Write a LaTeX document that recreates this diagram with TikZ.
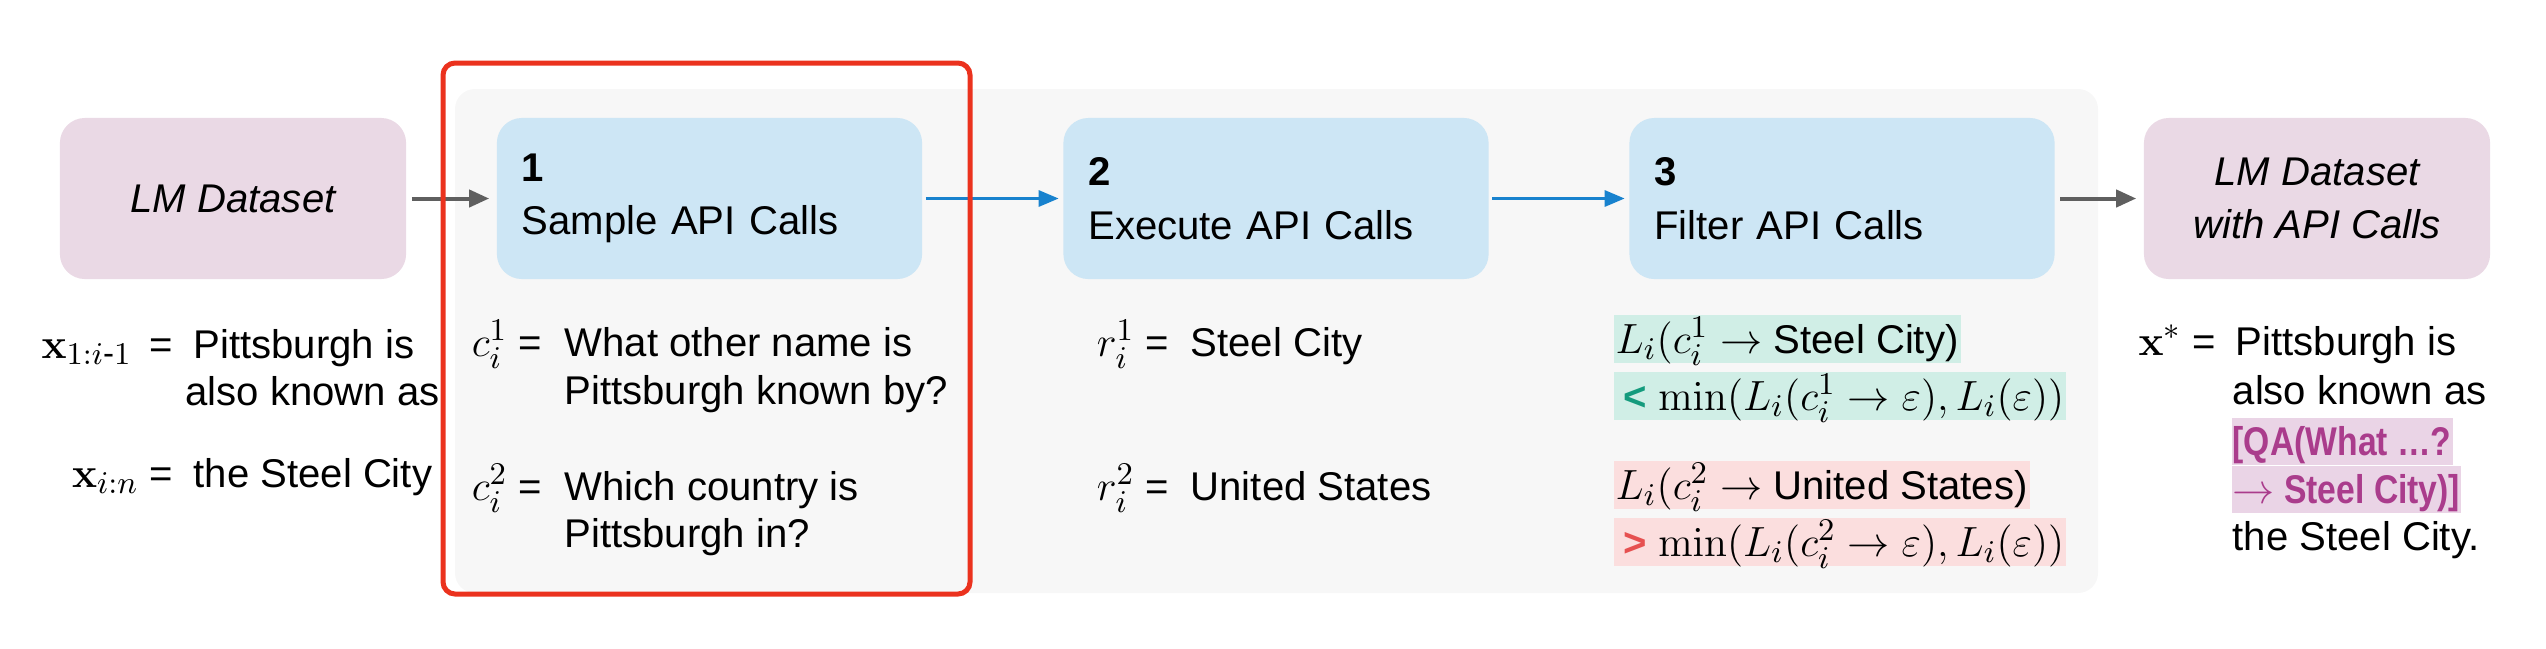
\documentclass[tikz,border=0pt]{standalone}
\usepackage{amsmath}
\usepackage[no-math]{fontspec}
\setmainfont{Liberation Sans}
\newfontfamily\apifont[FakeStretch=0.84]{Liberation Sans}
\usepackage{tikz}
\usepackage{xcolor}
\usetikzlibrary{arrows.meta}
\usetikzlibrary{positioning}
\DeclareMathSizes{11.4}{12.9}{9.4}{7}
\definecolor{datapink}{RGB}{234,217,229}
\definecolor{stepblue}{RGB}{205,230,245}
\definecolor{panelgray}{RGB}{247,247,247}
\definecolor{callred}{RGB}{235,50,30}
\definecolor{arrowblue}{RGB}{24,130,206}
\definecolor{arrowgray}{RGB}{95,95,95}
\definecolor{keepfill}{RGB}{208,238,230}
\definecolor{keepmark}{RGB}{20,155,125}
\definecolor{dropfill}{RGB}{251,222,222}
\definecolor{dropmark}{RGB}{230,80,80}
\definecolor{apifill}{RGB}{234,212,230}
\definecolor{apitext}{RGB}{170,60,140}
\newcommand{\rowfont}{\fontsize{11.4}{13.7}\selectfont}
\newcommand{\boxfont}{\fontsize{11.4}{15.2}\selectfont}
\tikzstyle{database} = [rectangle, rounded corners=0.25cm, fill=datapink, minimum width=3.46cm, minimum height=1.61cm, align=center, font=\boxfont\itshape]
\tikzstyle{stepbox} = [rectangle, rounded corners=0.25cm, fill=stepblue, minimum width=4.25cm, minimum height=1.61cm, text width=3.75cm, inner xsep=0.25cm, align=left, font=\boxfont]
\tikzstyle{txt} = [inner sep=0, font=\rowfont]
\tikzstyle{keep} = [txt, fill=keepfill, text height=0.38cm, text depth=0.1cm, inner xsep=0.02cm]
\tikzstyle{drop} = [txt, fill=dropfill, text height=0.38cm, text depth=0.1cm, inner xsep=0.02cm]
\tikzstyle{apicall} = [txt, fill=apifill, text=apitext, font=\rowfont\apifont\bfseries, text height=0.37cm, text depth=0.1cm, inner xsep=0.01cm]
\tikzstyle{grayarrow} = [line width=0.04cm, draw=arrowgray, -{Triangle[length=0.2cm,width=0.17cm]}, shorten <=0.05cm, shorten >=0.07cm]
\tikzstyle{bluearrow} = [line width=0.03cm, draw=arrowblue, -{Triangle[length=0.2cm,width=0.16cm]}, shorten <=0.03cm, shorten >=0.04cm]
\begin{document}
\begin{tikzpicture}[x=0.01cm, y=-0.01cm]
\useasboundingbox (0,0) rectangle (2546,648);
\fill[panelgray, rounded corners=0.2cm] (455,89) rectangle (2098,593);

\node[database] (data) at (233,198.5) {LM Dataset};
\node[stepbox] (sample) at (709.5,198.5) {\textbf{1}\\Sample API Calls};
\node[stepbox] (execute) at (1276,198.5) {\textbf{2}\\Execute API Calls};
\node[stepbox] (filter) at (1842,198.5) {\textbf{3}\\Filter API Calls};
\node[database] (augmented) at (2317,198.5) {LM Dataset\\with API Calls};
\draw[grayarrow] (data) -- (sample);
\draw[bluearrow] (sample) -- (execute);
\draw[bluearrow] (execute) -- (filter);
\draw[grayarrow] (filter) -- (augmented);

\node[txt, anchor=base east] (xprefix) at (174,358) {$\mathbf{x}_{1{:}i\text{-}1}$ \,=};
\node[txt, anchor=base west] (xprefixa) at (193,358) {Pittsburgh is};
\node[txt, anchor=base west] (xprefixb) at (185,405) {also known as};
\node[txt, anchor=base east] (xsuffix) at (174,487) {$\mathbf{x}_{i{:}n}$ =};
\node[txt, anchor=base west] (xsuffixa) at (193,487) {the Steel City};

\node[txt, anchor=base east] (call1) at (543,356) {$c_i^1$ =};
\node[txt, anchor=base west] (call1a) at (564,356) {What other name is};
\node[txt, anchor=base west] (call1b) at (564,404) {Pittsburgh known by?};
\node[txt, anchor=base east] (call2) at (543,500) {$c_i^2$ =};
\node[txt, anchor=base west] (call2a) at (564,500) {Which country is};
\node[txt, anchor=base west] (call2b) at (564,547) {Pittsburgh in?};

\node[txt, anchor=base east] (result1) at (1170,356) {$r_i^1$ =};
\node[txt, anchor=base west] (result1a) at (1190,356) {Steel City};
\node[txt, anchor=base east] (result2) at (1170,500) {$r_i^2$ =};
\node[txt, anchor=base west] (result2a) at (1190,500) {United States};

\node[keep, anchor=base west] (keep1) at (1613,353) {$L_i(c_i^1 \rightarrow$ Steel City)};
\node[keep, anchor=base west] (keep2) at (1613,410) {\hspace{0.08cm}\textcolor{keepmark}{\textbf{<}} $\min(L_i(c_i^1 \rightarrow \varepsilon), L_i(\varepsilon))$};
\node[drop, anchor=base west] (drop1) at (1613,499) {$L_i(c_i^2 \rightarrow$ United States)};
\node[drop, anchor=base west] (drop2) at (1613,556) {\hspace{0.08cm}\textcolor{dropmark}{\textbf{>}} $\min(L_i(c_i^2 \rightarrow \varepsilon), L_i(\varepsilon))$};

\node[txt, anchor=base east] (xstar) at (2217,355) {$\mathbf{x}^*$ =};
\node[txt, anchor=base west] (xstara) at (2235,355) {Pittsburgh is};
\node[txt, anchor=base west] (xstarb) at (2232,404) {also known as};
\node[apicall, anchor=base west] (apicalla) at (2231,455) {[QA(What …?};
\node[apicall, anchor=base west] (apicallb) at (2231,503) {$\rightarrow$ Steel City)]};
\node[txt, anchor=base west] (xstarc) at (2232,550) {the Steel City.};

\draw[callred, line width=0.05cm, rounded corners=0.12cm] (443,63) rectangle (970,594);
\end{tikzpicture}
\end{document}
